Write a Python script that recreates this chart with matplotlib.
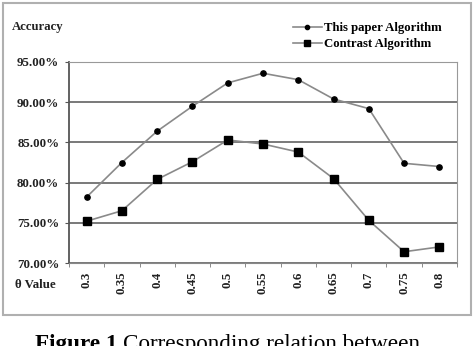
import numpy as np
import matplotlib
matplotlib.use("Agg")
import matplotlib.pyplot as plt
from matplotlib.patches import Rectangle
from matplotlib.ticker import FuncFormatter

theta = ["0.3", "0.35", "0.4", "0.45", "0.5", "0.55", "0.6", "0.65", "0.7", "0.75", "0.8"]
this_paper = [78.2, 82.5, 86.4, 89.5, 92.4, 93.6, 92.8, 90.4, 89.2, 82.4, 82.0]
contrast = [75.2, 76.5, 80.4, 82.6, 85.3, 84.8, 83.8, 80.5, 75.3, 71.4, 72.0]
yticks = [70, 75, 80, 85, 90, 95]

plt.rcParams['font.family'] = ['Liberation Serif', 'DejaVu Serif']

fig = plt.figure(figsize=(4.74, 3.46), dpi=100)
ax = fig.add_axes([69/474, 1-263/346, 388/474, 201/346])

x = np.arange(len(theta))
ax.plot(x, this_paper, color="#8a8a8a", lw=1.2, marker="o", ms=3.8,
        mfc="black", mec="black", label="This paper Algorithm", zorder=3)
ax.plot(x, contrast, color="#8a8a8a", lw=1.2, marker="s", ms=5.8,
        mfc="black", mec="black", label="Contrast Algorithm", zorder=3)

ax.set_xlim(-0.5, len(theta) - 0.5)
ax.set_ylim(70, 95)
ax.set_yticks(yticks)
ax.yaxis.set_major_formatter(FuncFormatter(lambda v, p: "%.2f%%" % v))
ax.set_xticks(x)
ax.set_xticklabels(theta, rotation=90)
ax.set_xticks(np.arange(-0.5, len(theta)), minor=True)
ax.tick_params(axis="x", which="major", length=0, pad=6)
ax.tick_params(axis="x", which="minor", length=3, color="#777777", direction="out")
ax.tick_params(axis="y", length=3, color="#555555", direction="out", pad=4)
for lab in ax.get_xticklabels() + ax.get_yticklabels():
    lab.set_fontweight("bold")
    lab.set_fontsize(9.3)
    lab.set_color("#222222")

ax.grid(axis="y", color="#555555", lw=1.1)
ax.set_axisbelow(True)
for side in ["top", "right"]:
    ax.spines[side].set_color("#999999")
ax.spines["left"].set_color("#555555")
ax.spines["bottom"].set_color("#888888")
ax.spines["left"].set_linewidth(1.3)

fig.text(12/474, 1-27/346, "Accuracy", fontsize=9.2, fontweight="bold",
         va="center", ha="left", color="#222222")
fig.text(15/474, 1-285/346, "\u03b8 Value", fontsize=9.3, fontweight="bold",
         va="center", ha="left", color="#222222")

leg = ax.legend(loc="upper left", bbox_to_anchor=(287/474, 1-16/346),
                bbox_transform=fig.transFigure, frameon=False,
                prop={"weight": "bold", "size": 9.2}, handlelength=2.2,
                handletextpad=0.2, labelspacing=0.3, borderpad=0,
                markerscale=0.8)

fig.patches.append(Rectangle((3/474, 1-315/346), 468/474, 312/346,
                             transform=fig.transFigure, fill=False,
                             ec="#b0b0b0", lw=1.5))

# caption is cut off at the bottom edge, as in the original
fig.text(35/474, 1-334/346, "Figure 1", fontsize=16.7, fontweight="bold",
         va="top", ha="left")
fig.text(123/474, 1-334/346, "Corresponding relation between", fontsize=16.7,
         va="top", ha="left")

fig.savefig("out.png", dpi=100)
